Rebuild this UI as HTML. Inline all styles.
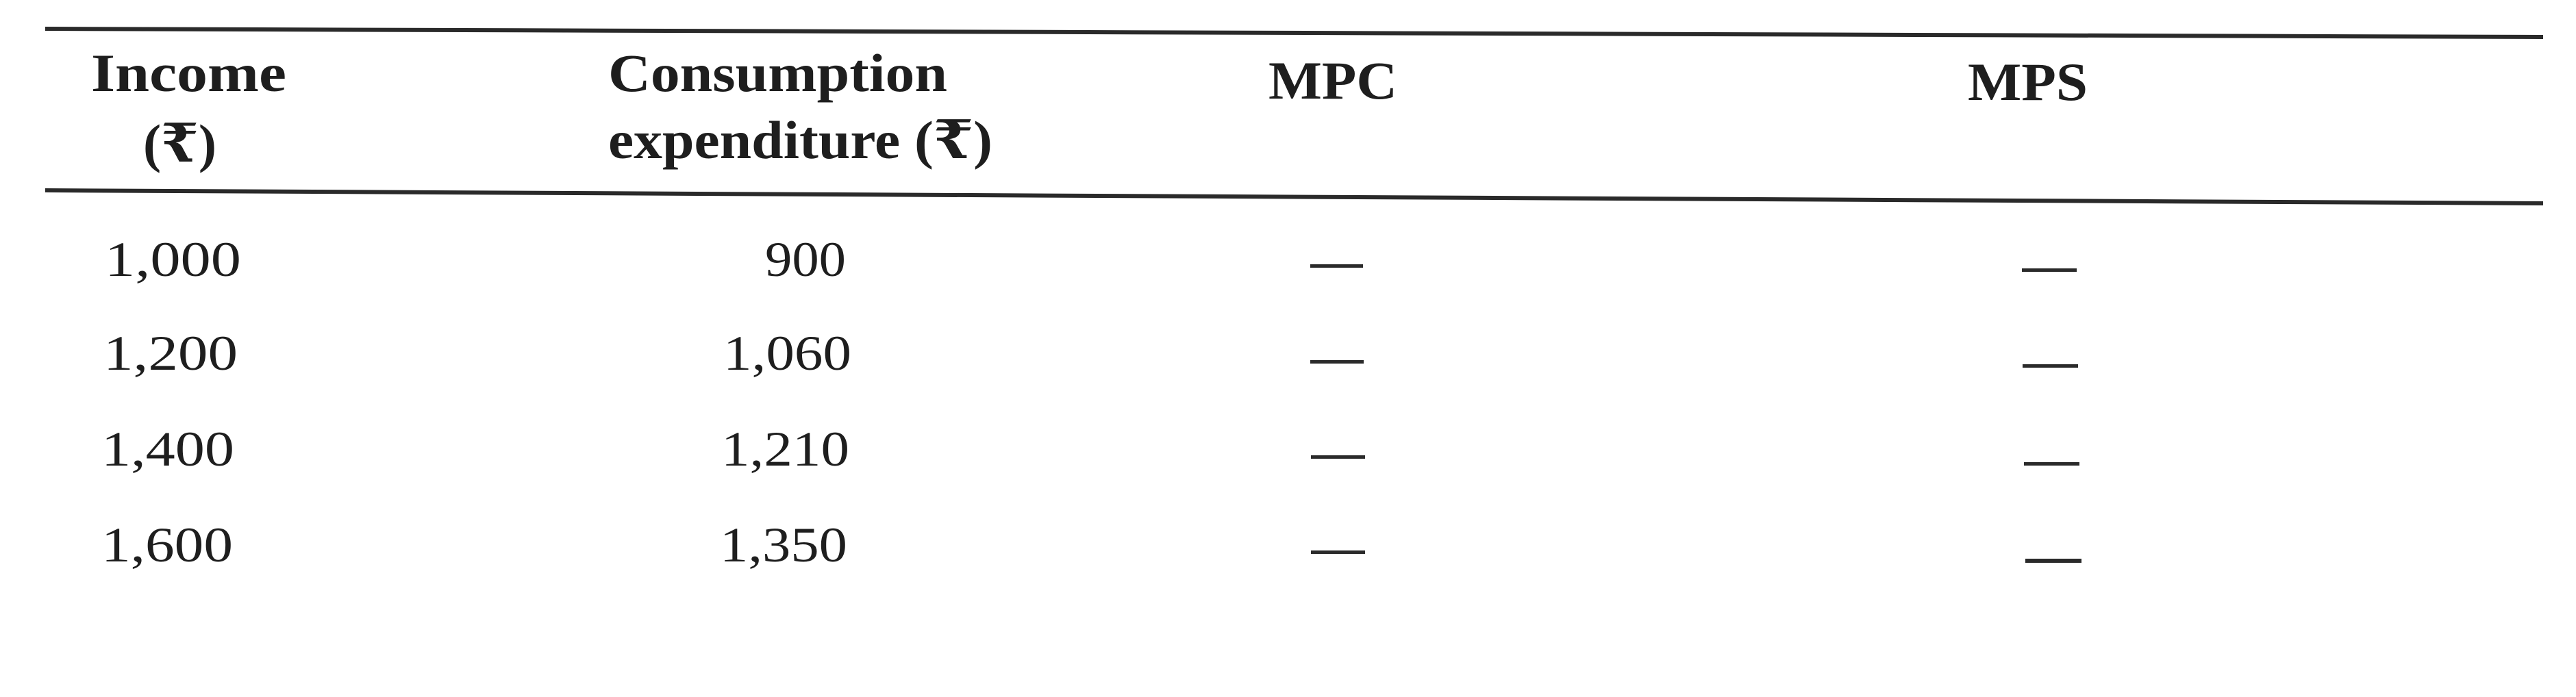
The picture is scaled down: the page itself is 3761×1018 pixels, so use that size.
<!DOCTYPE html>
<html><head><meta charset="utf-8"><style>
html,body{margin:0;padding:0;background:#fff;}
svg{display:block}
text{font-family:"Liberation Serif","DejaVu Serif",serif;fill:#1e1e1e;}
.b{font-weight:bold;font-size:78px;}
.r{font-size:72px;}
</style></head><body>
<svg width="3761" height="1018" viewBox="0 0 3761 1018" xmlns="http://www.w3.org/2000/svg">
<rect width="3761" height="1018" fill="#fff"/>
<line x1="66" y1="42" x2="3713" y2="54" stroke="#2a2a2a" stroke-width="6"/>
<line x1="66" y1="278" x2="3713" y2="297" stroke="#2a2a2a" stroke-width="6"/>
<text class="b" x="133" y="133" textLength="285" lengthAdjust="spacingAndGlyphs">Income</text>
<text class="b" x="209" y="236" textLength="107" lengthAdjust="spacingAndGlyphs">(₹)</text>
<text class="b" x="888" y="133" textLength="495" lengthAdjust="spacingAndGlyphs">Consumption</text>
<text class="b" x="888" y="231" textLength="561" lengthAdjust="spacingAndGlyphs">expenditure (₹)</text>
<text class="b" x="1852" y="144" textLength="188" lengthAdjust="spacingAndGlyphs">MPC</text>
<text class="b" x="2873" y="146" textLength="175" lengthAdjust="spacingAndGlyphs">MPS</text>
<text class="r" x="153" y="403" textLength="199" lengthAdjust="spacingAndGlyphs">1,000</text>
<text class="r" x="151" y="540" textLength="196" lengthAdjust="spacingAndGlyphs">1,200</text>
<text class="r" x="148" y="680" textLength="194" lengthAdjust="spacingAndGlyphs">1,400</text>
<text class="r" x="148" y="820" textLength="192" lengthAdjust="spacingAndGlyphs">1,600</text>
<text class="r" x="1117" y="403" textLength="118" lengthAdjust="spacingAndGlyphs">900</text>
<text class="r" x="1056" y="540" textLength="187" lengthAdjust="spacingAndGlyphs">1,060</text>
<text class="r" x="1053" y="680" textLength="187" lengthAdjust="spacingAndGlyphs">1,210</text>
<text class="r" x="1051" y="820" textLength="186" lengthAdjust="spacingAndGlyphs">1,350</text>
<g fill="#2a2a2a">
<rect x="1913" y="386" width="77" height="5"/>
<rect x="1913" y="526" width="78" height="5"/>
<rect x="1914" y="665" width="79" height="5"/>
<rect x="1914" y="804" width="79" height="5"/>
<rect x="2952" y="392" width="80" height="5"/>
<rect x="2953" y="532" width="81" height="5"/>
<rect x="2955" y="675" width="81" height="5"/>
<rect x="2957" y="816" width="82" height="6"/>
</g>
</svg>
</body></html>
